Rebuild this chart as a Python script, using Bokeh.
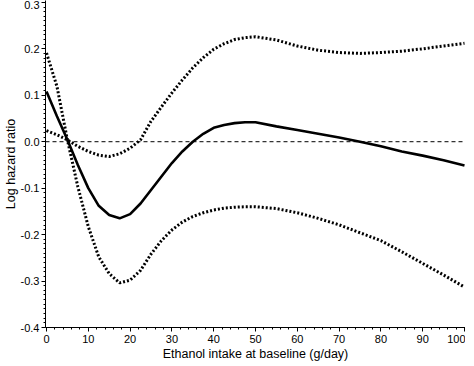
from bokeh.plotting import figure
from bokeh.models import Range1d, Span, FixedTicker, CustomJSTickFormatter
from bokeh.embed import file_html
from bokeh.resources import INLINE

x = [0, 2.5, 5, 7.5, 10, 12.5, 15, 17.5, 20, 22.5, 25, 27.5, 30, 32.5, 35, 37.5, 40, 42.5, 45, 47.5, 50, 55, 60, 65, 70, 75, 80, 85, 90, 95, 100]
estimate = [0.108, 0.055, 0.004, -0.050, -0.100, -0.138, -0.158, -0.165, -0.156, -0.133, -0.104, -0.075, -0.046, -0.021, 0.000, 0.017, 0.030, 0.036, 0.040, 0.042, 0.042, 0.033, 0.025, 0.017, 0.009, 0.000, -0.010, -0.021, -0.030, -0.040, -0.051]
lower = [0.191, 0.119, 0.004, -0.097, -0.183, -0.248, -0.284, -0.304, -0.298, -0.277, -0.242, -0.213, -0.190, -0.173, -0.161, -0.153, -0.147, -0.143, -0.141, -0.140, -0.140, -0.144, -0.153, -0.165, -0.179, -0.196, -0.213, -0.237, -0.262, -0.287, -0.313]
upper = [0.024, 0.015, 0.004, -0.010, -0.021, -0.029, -0.032, -0.026, -0.014, 0.004, 0.044, 0.075, 0.105, 0.133, 0.159, 0.181, 0.199, 0.211, 0.220, 0.224, 0.226, 0.219, 0.206, 0.197, 0.192, 0.190, 0.192, 0.195, 0.200, 0.206, 0.212]
x_ticks = [0, 10, 20, 30, 40, 50, 60, 70, 80, 90, 100]
y_ticks = [-0.4, -0.3, -0.2, -0.1, 0.0, 0.1, 0.2, 0.3]

p = figure(frame_width=420, frame_height=327, output_backend="svg", toolbar_location=None,
           x_range=Range1d(-0.24, 100.24), y_range=Range1d(-0.4, 0.304),
           min_border_left=38, min_border_right=0, min_border_top=0, min_border_bottom=0)
p.outline_line_color = None
p.grid.visible = False

p.add_layout(Span(location=0, dimension="width", line_color="black", line_width=1, line_dash="4 3"))

p.line(x, estimate, line_color="black", line_width=2.6)
p.line(x, lower, line_color="black", line_width=3, line_dash="2 2")
p.line(x, upper, line_color="black", line_width=3, line_dash="2 2")

font = "Liberation Sans"
p.xaxis.ticker = FixedTicker(ticks=x_ticks, minor_ticks=list(range(0, 101, 2)))
p.yaxis.ticker = FixedTicker(ticks=y_ticks, minor_ticks=[round(-0.4 + i * 0.01, 2) for i in range(71)])
p.yaxis.formatter = CustomJSTickFormatter(code="return tick.toFixed(1);")
for ax in (p.xaxis, p.yaxis):
    ax.axis_line_color = "black"
    ax.axis_line_width = 1
    ax.major_tick_line_color = "black"
    ax.minor_tick_line_color = "black"
    ax.major_tick_out = 4
    ax.major_tick_in = 0
    ax.minor_tick_out = 2
    ax.minor_tick_in = 0
    ax.major_label_text_font = font
    ax.major_label_text_font_size = "11px"
    ax.major_label_text_color = "black"
    ax.axis_label_text_font = font
    ax.axis_label_text_font_size = "12.5px"
    ax.axis_label_text_font_style = "normal"
    ax.axis_label_text_color = "black"
p.xaxis.axis_label = "Ethanol intake at baseline (g/day)"
p.yaxis.axis_label = "Log hazard ratio"
p.xaxis.major_label_standoff = 3
p.xaxis.axis_label_standoff = 1
p.yaxis.major_label_standoff = 2
p.yaxis.axis_label_standoff = 0

open("out.html", "w").write(file_html(p, INLINE))
